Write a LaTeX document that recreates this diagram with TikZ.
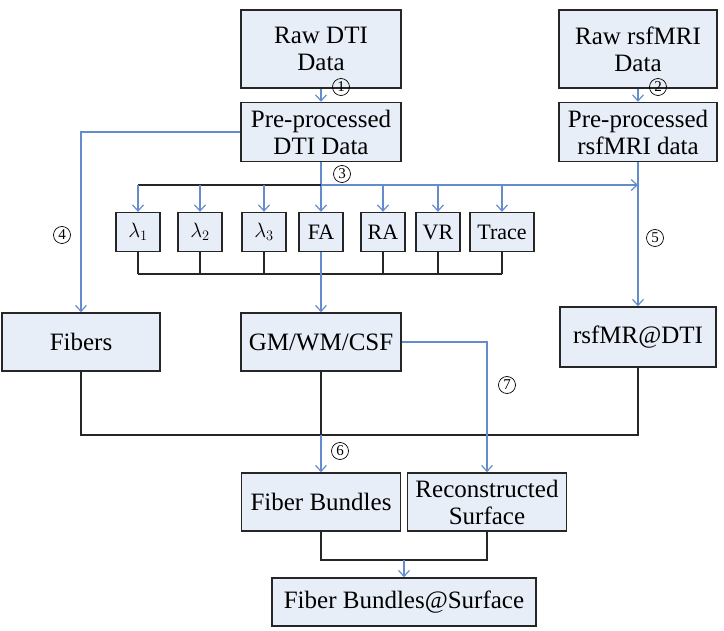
\documentclass[tikz,border=0pt]{standalone}
\usepackage{fontspec}
\setmainfont{Liberation Serif}
\usepackage{xcolor}
\usepackage{tikz}
\usetikzlibrary{arrows.meta, positioning}
\definecolor{boxfill}{RGB}{232,238,248}
\definecolor{linkblue}{RGB}{100,140,205}

\begin{document}
\begin{tikzpicture}[x=1pt, y=-1pt, auto]
        \tikzstyle{block} = [rectangle, draw=black!85, line width=1.6pt, fill=boxfill, align=center, minimum width=160pt, inner sep=2pt, font=\fontsize{25}{27}\selectfont]
        \tikzstyle{small} = [rectangle, draw=black!85, line width=1.4pt, fill=boxfill, minimum height=39pt, minimum width=44pt, inner sep=2pt, font=\fontsize{22}{24}\selectfont]
        \tikzstyle{line} = [draw=linkblue, line width=1.2pt, -{Straight Barb[length=6pt, width=11pt]}]
        \tikzstyle{wire} = [draw=black!85, line width=1.4pt]
        \tikzstyle{num} = [circle, draw=black, line width=0.7pt, inner sep=0pt, minimum size=17pt, font=\fontsize{15}{15}\selectfont]

        \useasboundingbox (0,0) rectangle (724,631);

        % Nodes
        \node [block, minimum height=78pt] (rawdti) at (321,49) {Raw DTI \\ Data};
        \node [block, minimum height=78pt, minimum width=158pt] (rawfmri) at (638,49) {Raw rsfMRI \\ Data};
        \node [block, minimum height=59pt, node distance=83pt, below of=rawdti] (predti) {Pre-processed \\ DTI Data};
        \node [block, minimum height=59pt, minimum width=158pt, node distance=83pt, below of=rawfmri] (prefmri) {Pre-processed \\ rsfMRI data};

        \node [small] (l1) at (138,232) {$\lambda_1$};
        \node [small] (l2) at (200,232) {$\lambda_2$};
        \node [small] (l3) at (264,232) {$\lambda_3$};
        \node [small] (fa) at (321,232) {FA};
        \node [small] (ra) at (383,232) {RA};
        \node [small] (vr) at (438,232) {VR};
        \node [small, minimum width=64pt] (tr) at (502,232) {Trace};

        \node [block, minimum height=58pt, minimum width=158pt] (fibers) at (81,342) {Fibers};
        \node [block, minimum height=58pt, node distance=210pt, below of=predti] (gm) {GM/WM/CSF};
        \node [block, minimum height=60pt, minimum width=156pt] (rsfdti) at (638,337) {rsfMR@DTI};

        \node [block, minimum height=58pt, minimum width=159pt] (bundles) at (321,502) {Fiber Bundles};
        \node [block, minimum height=58pt, minimum width=159pt, node distance=166pt, right of=bundles] (surface) {Reconstructed \\ Surface};
        \node [block, minimum height=48pt, minimum width=264pt] (final) at (404,602) {Fiber Bundles@Surface};

        % step numbers
        \node [num] (c1) at (341,87) {1};
        \node [num] (c2) at (658,87) {2};
        \node [num] (c3) at (342,174) {3};
        \node [num] (c4) at (62,235) {4};
        \node [num] (c5) at (655,238) {5};
        \node [num] (c6) at (340,451) {6};
        \node [num] (c7) at (507,385) {7};

        % Junctions
        \coordinate (bus) at (fa.north |- 0,185);
        \coordinate (tap) at (prefmri.south |- 0,185);
        \coordinate (sumL) at (l1.south |- 0,274);
        \coordinate (sumR) at (tr.south |- 0,274);
        \coordinate (rowL) at (fibers.south |- 0,435);
        \coordinate (rowM) at (gm.south |- 0,435);
        \coordinate (rowR) at (rsfdti.south |- 0,435);
        \coordinate (botL) at (bundles.south |- 0,560);
        \coordinate (botR) at (surface.south |- 0,560);
        \coordinate (botM) at (final.north |- 0,560);

        % Paths
        \path [line] (rawdti) -- (predti);
        \path [line] (rawfmri) -- (prefmri);
        \path [line] (predti.west) -| (fibers.north);
        \path [line] (predti) -- (fa);
        \path [line] (prefmri) -- (rsfdti);
        \draw [wire] (l1.north |- bus) -- (bus);
        \path [line] (bus) -- (tap);
        \foreach \n in {l1, l2, l3, ra, vr, tr}
            \path [line] (\n.north |- bus) -- (\n.north);
        \foreach \n in {l1, l2, l3, ra, vr, tr}
            \draw [wire] (\n.south) -- (\n.south |- sumL);
        \draw [wire] (sumL) -- (sumR);
        \path [line] (fa) -- (gm);
        \draw [wire] (fibers.south) -- (rowL) -- (rowR) -- (rsfdti.south);
        \draw [wire] (gm.south) -- (rowM);
        \path [line] (rowM) -- (bundles.north);
        \path [line] (gm.east) -| (surface.north);
        \draw [wire] (bundles.south) -- (botL) -- (botR) -- (surface.south);
        \path [line] (botM) -- (final.north);
    \end{tikzpicture}
\end{document}
